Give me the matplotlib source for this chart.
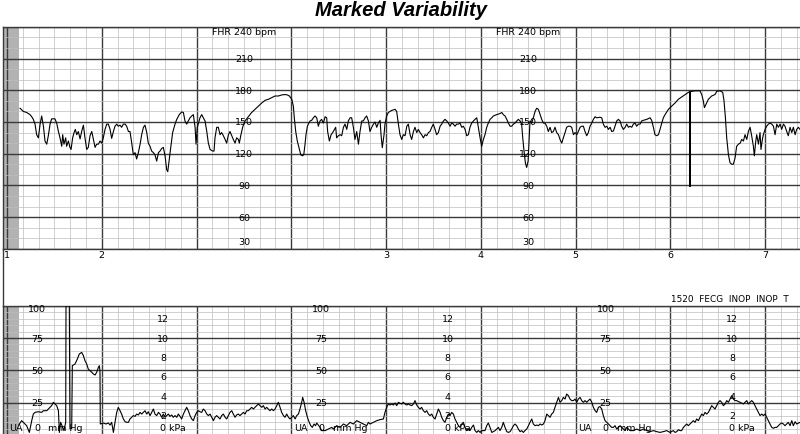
import matplotlib
matplotlib.use("Agg")
import matplotlib.pyplot as plt
from matplotlib.lines import Line2D
import numpy as np

title = "Marked Variability"

# Fetal heart rate trace: time in seconds, beats per minute
fhr_t = [8.3, 10.4, 12.5, 14.6, 15.7, 16.7, 17.8, 18.8, 19.9, 21.0,
         22.0, 23.1, 24.1, 25.2, 26.2, 27.3, 28.3, 30.4, 31.5, 32.6,
         33.6, 34.7, 35.3, 36.1, 37.2, 37.8, 38.9, 39.9, 40.6, 41.6,
         42.5, 43.3, 44.2, 45.2, 46.3, 47.3, 48.4, 49.4, 50.5, 51.5,
         52.6, 53.7, 54.7, 55.8, 56.8, 57.9, 58.9, 60.0, 61.0, 62.1,
         63.2, 64.2, 65.3, 66.3, 67.4, 68.4, 69.5, 70.5, 71.6, 72.6,
         73.7, 74.8, 75.8, 76.9, 77.9, 79.0, 80.0, 81.1, 82.1, 83.2,
         84.3, 85.3, 86.4, 87.4, 88.5, 89.5, 90.6, 91.6, 92.7, 93.7,
         94.8, 95.9, 96.9, 98.0, 99.0, 100.1, 101.1, 101.8, 102.6, 103.7,
         104.9, 106.4, 107.5, 109.1, 110.6, 111.7, 112.7, 113.8, 114.8, 115.9,
         117.0, 118.0, 119.1, 119.7, 120.5, 122.2, 123.3, 124.3, 125.4, 126.5,
         127.5, 128.6, 130.2, 131.1, 131.7, 132.8, 133.8, 134.9, 135.9, 137.0,
         138.1, 139.1, 140.2, 141.2, 142.3, 143.3, 144.4, 145.4, 146.5, 147.1,
         148.0, 149.2, 150.7, 152.8, 154.9, 157.0, 159.2, 161.3, 163.4, 165.5,
         167.6, 169.7, 171.8, 173.9, 176.0, 177.5, 178.8, 180.3, 181.3, 181.9,
         182.8, 183.8, 184.9, 186.0, 187.0, 187.9, 188.7, 189.3, 190.2, 190.8,
         191.9, 192.9, 194.0, 195.0, 196.1, 197.1, 198.2, 199.2, 200.3, 201.4,
         202.4, 203.0, 204.1, 205.2, 206.2, 207.3, 208.1, 208.7, 209.8, 210.9,
         211.9, 213.0, 214.0, 215.1, 216.1, 217.2, 218.2, 219.3, 220.3, 221.4,
         222.5, 223.5, 224.6, 225.6, 226.7, 227.7, 228.8, 229.8, 230.9, 232.0,
         233.0, 234.1, 235.1, 236.2, 236.8, 237.6, 238.7, 239.3, 240.4, 241.4,
         243.6, 245.7, 246.7, 247.8, 248.8, 249.9, 250.9, 252.0, 253.1, 254.1,
         255.2, 256.2, 257.3, 258.3, 259.4, 260.4, 261.5, 262.5, 263.6, 264.7,
         265.7, 266.8, 267.8, 268.9, 269.9, 271.0, 272.0, 273.1, 274.2, 275.2,
         276.3, 277.3, 278.4, 279.4, 280.5, 281.5, 282.6, 283.6, 284.7, 285.8,
         286.8, 287.9, 288.9, 290.0, 291.0, 292.1, 293.1, 294.2, 295.3, 296.3,
         297.4, 298.4, 299.5, 300.5, 301.6, 302.6, 303.7, 304.7, 305.8, 306.9,
         307.9, 310.0, 312.1, 313.2, 314.2, 315.3, 316.4, 317.4, 318.5, 319.5,
         320.6, 321.6, 322.7, 323.7, 324.8, 325.8, 326.5, 327.3, 328.2, 329.0,
         329.9, 330.5, 331.1, 332.2, 333.2, 334.3, 335.3, 336.4, 337.5, 338.5,
         339.6, 340.6, 341.7, 342.7, 343.8, 344.8, 345.9, 346.9, 348.0, 349.1,
         350.1, 351.2, 352.2, 353.3, 354.3, 355.4, 356.4, 357.5, 358.6, 359.6,
         360.7, 361.7, 362.8, 363.8, 364.9, 365.9, 367.0, 368.0, 369.1, 370.2,
         371.2, 372.3, 373.3, 375.4, 376.5, 377.5, 378.6, 379.7, 380.7, 381.8,
         382.8, 383.9, 384.9, 386.0, 387.0, 388.1, 389.1, 390.2, 391.3, 392.3,
         393.4, 394.4, 395.5, 396.5, 397.6, 398.6, 399.7, 400.8, 401.8, 402.9,
         405.0, 407.1, 408.1, 409.2, 410.2, 411.3, 412.4, 413.4, 414.5, 415.5,
         416.6, 418.7, 420.8, 422.9, 425.0, 427.1, 429.2, 431.3, 432.4, 432.4,
         432.4, 433.5, 435.6, 438.7, 439.8, 440.8, 441.5, 442.5, 444.0, 446.1,
         448.2, 449.3, 451.4, 453.1, 453.9, 454.8, 455.6, 456.7, 457.7, 458.8,
         459.8, 460.9, 461.9, 463.0, 464.1, 465.1, 466.2, 467.2, 468.3, 469.3,
         470.4, 471.4, 472.5, 473.1, 474.0, 474.6, 475.7, 476.7, 477.3, 478.2,
         478.8, 479.9, 480.9, 482.0, 483.0, 484.1, 485.2, 486.2, 487.3, 488.3,
         489.4, 490.4, 491.5, 492.5, 493.6, 494.6, 495.7, 496.8, 497.8, 498.9,
         499.9, 501.0, 502.0]
fhr_bpm = [163, 160, 159, 157, 155, 152.5, 148, 138, 135, 148,
           155.7, 146, 132, 129, 137, 148, 153, 153, 149, 141,
           135, 127, 138, 129, 135, 127, 132, 126, 124, 135,
           140, 143, 138, 141, 134, 141, 147, 135, 124, 126,
           137, 141, 134, 126, 129, 129, 132, 130, 135, 143,
           148, 148, 143, 134.5, 141, 146, 148, 146, 147, 145,
           148, 148, 146, 141, 141, 130, 119, 121, 115, 121,
           129, 138, 145, 147, 140, 130, 127, 122.5, 121, 119,
           113, 121, 122.5, 125, 126, 118, 105, 103, 113, 126,
           140, 148, 152.5, 157, 159.5, 159, 151, 148, 151, 154,
           155.7, 157, 145, 129, 145, 154, 157, 154, 151, 141,
           130, 124, 122.5, 122.5, 135, 145, 145, 138, 140, 137,
           133.5, 130, 138, 141, 137, 133.5, 130, 135, 133.5, 130,
           137, 145, 151, 155, 159, 162, 165, 168, 170.5, 171.5,
           173, 174.6, 174.6, 175.6, 176, 175.6, 174.6, 171.5, 165, 154,
           141, 132, 125.7, 119, 118, 119, 129, 138, 146, 148,
           151, 151.6, 154, 155.7, 154, 146, 151, 152.5, 149, 155,
           154, 141, 132, 138, 140, 143, 145, 135, 137, 138,
           137, 145, 148, 143, 151, 154, 154, 145, 133.5, 141,
           129, 141, 151, 151, 154, 155.7, 151, 141, 145, 148,
           150, 145, 149, 151.6, 138, 125.7, 138, 148, 155.7, 159,
           161, 162, 160, 148, 138, 133.5, 138, 137, 146, 148,
           138, 133.5, 141, 145, 140, 143, 140, 138, 135, 138,
           137, 140, 141, 145, 148, 143, 138, 140, 146, 148,
           151, 152.5, 151, 149, 146, 149, 148, 146, 148, 148,
           149, 145, 146, 143, 137, 138, 145, 149, 151, 152.5,
           154, 145, 135, 127, 133.5, 138, 145, 149, 152.5, 154,
           155.7, 157, 158, 159, 157, 155.7, 152.5, 149, 146, 146,
           148, 149, 151, 152.5, 151, 148, 135, 122.5, 111, 107,
           113, 132, 151, 149, 154, 160, 163, 162, 157, 152.5,
           149, 149, 146, 141, 145, 140, 141, 145, 140, 138,
           133.5, 130, 135, 140, 145, 146, 146, 145, 138, 140,
           138, 141, 145, 146, 146, 141, 137, 140, 146, 149,
           152.5, 155, 154, 154.5, 154, 148, 145, 146, 143, 145,
           141, 141.5, 146, 151, 152.5, 151, 146, 143, 145, 148,
           145, 146, 145, 148, 149, 146, 148, 148, 151, 151.6,
           152.5, 154, 151.6, 145, 138, 137, 138, 143, 149, 154,
           157, 162, 165, 168, 171.5, 173.7, 176, 178, 179, 89,
           179, 179, 179.5, 179.5, 176, 170, 163.6, 166.7, 171.5, 174.6,
           176, 179, 179.5, 178, 170, 154, 135, 119, 111.5, 110,
           110, 116, 127, 129, 130, 133.5, 132, 138, 133.5, 141,
           145, 137, 127, 118, 132, 138, 129, 140, 124, 133.5,
           138, 143, 146, 148, 149, 148, 146, 138, 148, 145,
           148, 143, 148, 146, 141, 137, 145, 140, 145, 138,
           143, 145, 143]

# Uterine activity trace: time in seconds, mm Hg
ua_t = [7.9, 9.3, 12.5, 14.2, 15.7, 16.7, 17.8, 19.9, 22.0, 23.1,
        25.2, 27.3, 28.3, 29.4, 30.4, 31.5, 32.6, 33.2, 34.0, 34.9,
        36.1, 37.2, 37.4, 39.5, 39.9, 41.0, 41.4, 43.1, 44.6, 45.8,
        47.3, 48.4, 49.4, 50.5, 51.5, 52.6, 53.7, 54.7, 55.8, 56.8,
        57.9, 58.5, 58.9, 59.1, 61.0, 62.7, 64.2, 65.3, 66.3, 67.4,
        68.4, 69.5, 70.5, 71.6, 72.6, 73.7, 74.8, 75.8, 76.9, 77.9,
        79.0, 80.0, 81.1, 82.1, 83.2, 84.3, 85.3, 86.4, 87.4, 88.5,
        89.5, 90.6, 91.6, 92.7, 93.7, 94.8, 95.9, 96.9, 98.0, 99.0,
        100.1, 101.1, 102.2, 103.2, 104.3, 105.3, 106.4, 107.5, 108.5, 109.6,
        110.6, 111.7, 112.7, 113.8, 114.8, 115.9, 117.0, 118.0, 119.1, 120.1,
        121.2, 122.2, 123.3, 124.3, 125.4, 126.5, 127.5, 128.6, 129.6, 130.7,
        131.7, 132.8, 133.8, 134.9, 135.9, 137.0, 138.1, 139.1, 140.2, 141.2,
        142.3, 143.3, 144.4, 145.4, 146.5, 147.5, 148.6, 149.7, 150.7, 151.8,
        152.8, 153.9, 154.9, 156.0, 157.0, 158.1, 159.2, 160.2, 161.3, 162.3,
        163.4, 164.4, 165.5, 166.5, 167.6, 168.7, 169.7, 170.8, 171.8, 172.9,
        173.9, 175.0, 176.0, 177.1, 178.2, 179.2, 180.3, 181.3, 182.4, 183.4,
        184.5, 185.5, 186.6, 187.2, 188.1, 189.1, 190.2, 191.2, 192.3, 193.3,
        194.4, 195.4, 196.1, 198.2, 199.2, 201.4, 203.5, 205.6, 206.6, 208.7,
        210.9, 213.0, 215.1, 217.2, 219.3, 221.4, 223.5, 225.6, 227.7, 228.8,
        229.8, 232.0, 234.1, 236.2, 238.3, 239.3, 240.4, 241.4, 242.5, 243.6,
        244.6, 245.7, 246.7, 247.8, 248.8, 249.9, 250.9, 252.0, 253.1, 254.1,
        255.2, 256.2, 257.3, 258.3, 259.4, 260.4, 261.5, 262.5, 263.6, 264.7,
        265.7, 266.8, 267.8, 268.9, 269.9, 271.0, 272.0, 273.1, 274.2, 275.2,
        276.3, 277.3, 278.4, 279.4, 280.5, 281.5, 282.6, 283.6, 284.7, 285.8,
        286.8, 287.9, 288.9, 290.0, 291.0, 292.1, 293.1, 294.2, 295.3, 296.3,
        297.4, 298.4, 299.5, 300.5, 302.6, 303.7, 304.7, 305.8, 306.9, 307.9,
        309.0, 310.0, 311.1, 312.1, 313.2, 314.2, 315.3, 316.4, 317.4, 318.5,
        319.5, 320.6, 321.6, 322.7, 323.7, 324.8, 325.8, 326.9, 327.9, 329.0,
        330.1, 331.1, 332.2, 333.2, 334.3, 335.3, 336.4, 337.5, 338.5, 339.6,
        340.6, 341.7, 342.7, 343.8, 344.8, 345.9, 346.9, 348.0, 349.1, 350.1,
        351.2, 352.2, 353.3, 354.3, 355.4, 356.4, 357.5, 358.6, 359.6, 360.7,
        361.7, 362.8, 363.8, 364.9, 365.9, 367.0, 368.0, 369.1, 370.2, 371.2,
        372.3, 373.3, 374.4, 375.4, 376.5, 377.5, 378.6, 379.7, 380.7, 381.8,
        382.8, 383.9, 384.9, 386.0, 387.0, 388.1, 389.1, 390.2, 391.3, 392.3,
        393.4, 394.4, 396.5, 398.6, 400.8, 402.9, 405.0, 407.1, 409.2, 411.3,
        413.4, 415.5, 417.6, 419.7, 421.8, 422.9, 424.0, 425.0, 426.1, 427.1,
        428.2, 429.2, 430.3, 431.3, 432.4, 433.5, 434.5, 435.6, 436.6, 437.7,
        438.7, 439.8, 440.8, 441.9, 442.9, 444.0, 445.1, 446.1, 447.2, 448.2,
        449.3, 450.3, 451.4, 452.4, 453.5, 454.6, 455.6, 456.7, 457.7, 458.8,
        459.8, 460.9, 461.9, 463.0, 464.1, 465.1, 466.2, 467.2, 468.3, 469.3,
        470.4, 471.4, 472.5, 473.5, 474.6, 475.7, 476.7, 477.8, 478.8, 479.9,
        480.9, 482.0, 483.0, 484.1, 485.2, 486.2, 487.3, 488.3, 489.4, 490.4,
        491.5, 492.5, 493.6, 494.6, 495.7, 496.8, 497.8, 498.9, 499.9, 502.0]
ua_mmhg = [8.5, 11.1, 7.2, 2, 11.1, 16.2, 17.5, 18, 17.5, 18.8,
           18.8, 21.4, 22.7, 25.3, 24, 22.7, 18.8, 2, 9.8, 7.2,
           3.4, 9.8, 100, 100, 5, 5, 53.6, 54.9, 58.8, 62.6,
           63.9, 61.4, 57.5, 54.9, 51, 49.8, 48.5, 47.2, 46.4, 48.5,
           52.3, 53.6, 49.8, 8.5, 9.3, 8.5, 9.3, 7.7, 9.8, 2,
           9.8, 17.5, 21.4, 18.8, 16.2, 12.4, 10.3, 9.8, 9.8, 12.4,
           13.7, 15, 14.4, 16.2, 15.5, 17.5, 16.2, 17.5, 18.8, 16.2,
           18, 15, 17.5, 20.1, 16.2, 15, 17.5, 16.2, 13.7, 16.2,
           13.7, 15, 16.2, 14.4, 15.5, 13.7, 15, 13.7, 16.2, 14.4,
           12.4, 16.2, 18.8, 21.4, 18.8, 15, 12.4, 11.1, 15, 17.5,
           18.8, 18, 17.5, 20.1, 18.8, 16.2, 15, 16.2, 13.7, 11.1,
           13.7, 15, 13.7, 12.4, 15, 16.2, 13.7, 12.4, 15, 17.5,
           18.8, 16.2, 13.7, 15.5, 16.2, 15, 16.2, 17.5, 16.2, 18.8,
           18.8, 20.1, 21.4, 20.1, 21.4, 22.7, 24, 22.7, 21.4, 22.7,
           20.1, 21.4, 20.1, 18.8, 20.1, 18.8, 20.1, 22.7, 25.3, 21.4,
           17.5, 15, 13.7, 16.2, 13.7, 12.4, 13.7, 15, 12.4, 15,
           16.2, 20.1, 25.3, 29.1, 25.3, 18.8, 13.7, 10.3, 7.2, 5.9,
           8.5, 7.2, 9.3, 5.9, 3.4, 3.4, 4.6, 5.9, 4.6, 7.2,
           5.9, 8.5, 7.2, 9.8, 8.5, 11.1, 9.8, 8.5, 7.2, 9.8,
           8.5, 9.8, 11.1, 11.9, 12.4, 17.5, 21.4, 24, 23.2, 24,
           23.2, 24.7, 22.7, 25.3, 24.5, 24, 25.3, 24, 23.2, 24,
           23.2, 22.7, 24, 26.6, 23.2, 21.4, 20.1, 21.4, 18.8, 17.5,
           18.8, 16.2, 15, 16.2, 13.7, 12.4, 16.2, 20.1, 17.5, 13.7,
           11.1, 9.8, 13.7, 16.2, 15, 17.5, 16.2, 12.4, 9.8, 7.2,
           5.9, 8.5, 9.8, 5.9, 3.4, 4.6, 3.4, 5.9, 7.7, 3.4,
           2, 3.4, 2, 3.4, 3.4, 7.2, 9.3, 5.9, 2, 2.6,
           3.4, 4.6, 5.9, 3.4, 5.9, 9.8, 5.9, 2.6, 2, 2.6,
           4.6, 7.2, 8.5, 7.2, 4.6, 2.6, 3.4, 2, 3.4, 4.6,
           7.2, 9.8, 12.4, 8.5, 7.2, 7.7, 7.2, 8.5, 7.7, 8.5,
           11.1, 16.2, 15, 13.7, 16.2, 17.5, 21.4, 25.3, 29.1, 25.3,
           26.6, 29.1, 27.8, 31.7, 30.4, 27.8, 26.6, 26.6, 27.8, 25.3,
           27.8, 29.1, 26.6, 25.3, 26.6, 25.3, 26.6, 27.8, 25.3, 21.4,
           18.8, 17.5, 21.4, 22, 20.1, 15, 11.1, 9.8, 8.5, 7.2,
           5.9, 5.9, 7.2, 4.6, 5.9, 7.2, 5.9, 4.6, 3.4, 5.9,
           4.6, 3.4, 3.4, 4.6, 3.4, 4.6, 3.4, 2.6, 3.4, 2.6,
           2, 2.6, 3.4, 2, 3.4, 2, 2.6, 4.1, 3.4, 3.4,
           5.9, 7.2, 8.5, 7.2, 8.5, 9.8, 11.1, 9.8, 12.4, 11.1,
           13.7, 16.2, 15, 17.5, 16.2, 17.5, 20.1, 22.7, 21.4, 20.1,
           22.7, 25.3, 26.6, 25.3, 22.7, 24, 26.6, 25.3, 27.8, 30.4,
           27.8, 26.6, 26.6, 25.8, 25.3, 24.7, 24, 25.3, 26.6, 24,
           25.3, 26.6, 25.3, 22.7, 20.1, 17.5, 15, 16.2, 15, 16.2,
           13.7, 11.1, 8.5, 5.9, 5.2, 5.9, 5.9, 7.2, 8.5, 9.3,
           8.5, 7.2, 8.5, 9.8, 7.2, 11.1, 7.2, 10.3, 8.5, 9.8]

# Paper annotations
marker_t = [0, 60, 240, 300, 360, 420, 480]
marker_labels = ["1", "2", "3", "4", "5", "6", "7"]
fhr_scale = [210, 180, 150, 120, 90, 60]
fhr_label_t = [150, 330]
ua_scale = [75, 50, 25]
ua_label_t = [19, 199, 379]
kpa_scale = [12, 10, 8, 6, 4, 2]
kpa_label_t = [99, 279, 459]
status_text = "1520  FECG  INOP  INOP  T"
status_t = 420.3

# ---------------------------------------------------------------------------
W_PX, H_PX = 800, 435
fig = plt.figure(figsize=(8, 4.35), dpi=100)
fig.patch.set_facecolor("white")

left = 2.5 / W_PX
width = 1 - left
top_y0, top_y1 = 27.9, 249.8
bot_y0, bot_y1 = 306.7, 436.0
ax1 = fig.add_axes([left, 1 - top_y1 / H_PX, width, (top_y1 - top_y0) / H_PX])
ax2 = fig.add_axes([left, 1 - bot_y1 / H_PX, width, (bot_y1 - bot_y0) / H_PX])

XMIN, XMAX = -2.8, 502.0
MAJ_C, MIN_C = "#3a3a3a", "#bdbdbd"
FS = 6.8

for ax, ylo, yhi, ymaj, ymin in [(ax1, 30, 240, 30, 10), (ax2, 0, 100, 25, 5)]:
    ax.set_xlim(XMIN, XMAX)
    ax.set_ylim(ylo, yhi)
    ax.set_xticks(np.arange(0, 501, 60))
    ax.set_xticks(np.arange(10, 501, 10), minor=True)
    ax.set_yticks(np.arange(ylo, yhi + 1, ymaj))
    ax.set_yticks(np.arange(ylo, yhi + 1, ymin), minor=True)
    ax.grid(which="major", color=MAJ_C, lw=1.0)
    ax.grid(which="minor", color=MIN_C, lw=0.5)
    ax.set_axisbelow(True)
    ax.tick_params(which="both", length=0, labelleft=False)
    ax.spines["right"].set_visible(False)
    for s in ["left", "top", "bottom"]:
        ax.spines[s].set_color(MAJ_C)
        ax.spines[s].set_linewidth(1.0)
    ax.axvspan(-2.3, 7.7, color="#b2b2b2", zorder=0.3, lw=0)
    ax.set_facecolor("white")

# minute marker labels under top panel
lab_map = dict(zip(marker_t, marker_labels))
ax1.set_xticklabels([lab_map.get(int(t), "") for t in np.arange(0, 501, 60)],
                    fontsize=FS)
ax1.tick_params(axis="x", pad=1.2)
ax2.tick_params(axis="x", labelbottom=False)

# traces
ax1.plot(fhr_t, fhr_bpm, color="black", lw=0.8, zorder=3)
ax2.plot(ua_t, ua_mmhg, color="black", lw=0.8, zorder=3, clip_on=True)

# FHR scale texts
for t in fhr_label_t:
    ax1.text(t, 235.5, "FHR 240 bpm", ha="center", va="center", fontsize=FS, zorder=4)
    for v in fhr_scale:
        ax1.text(t, v, str(v), ha="center", va="center", fontsize=FS, zorder=4)
    ax1.text(t, 36.5, "30", ha="center", va="center", fontsize=FS, zorder=4)

# UA scale texts
for t in ua_label_t:
    ax2.text(t, 97.5, "100", ha="center", va="center", fontsize=FS, zorder=4)
    for v in ua_scale:
        ax2.text(t, v, str(v), ha="center", va="center", fontsize=FS, zorder=4)
    ax2.text(t - 17.5, 6, "UA", ha="left", va="center", fontsize=FS, zorder=4)
    ax2.text(t, 6, "0", ha="center", va="center", fontsize=FS, zorder=4)
    ax2.text(t + 7.2, 6, "mm Hg", ha="left", va="center", fontsize=FS, zorder=4)

for t in kpa_label_t:
    for k in kpa_scale:
        ax2.text(t, k * 7.5, str(k), ha="center", va="center", fontsize=FS, zorder=4)
    ax2.text(t - 2.0, 6, "0 kPa", ha="left", va="center", fontsize=FS, zorder=4)

ax2.text(status_t, 105.2, status_text, ha="left", va="center", fontsize=6.4,
         clip_on=False)

# left border through the gap between panels
fig.add_artist(Line2D([left, left], [1 - bot_y0 / H_PX, 1 - top_y1 / H_PX],
                      transform=fig.transFigure, color=MAJ_C, lw=1.0))

fig.text(0.501, 1 - 15.5 / H_PX, title, ha="center", va="baseline",
         fontsize=14.5, fontweight="bold", fontstyle="italic",
         family="Liberation Sans")

fig.savefig("out.png", dpi=100, facecolor="white")
